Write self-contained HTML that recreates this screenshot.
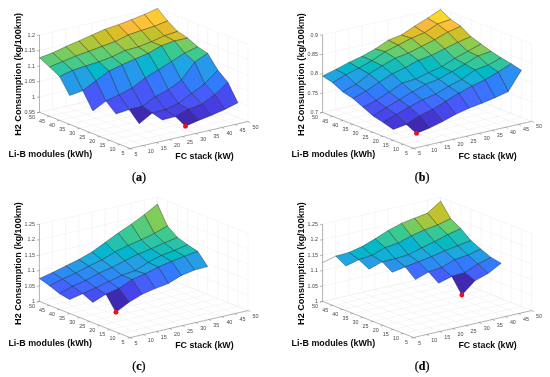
<!DOCTYPE html>
<html lang="en"><head><meta charset="utf-8"><title>H2 consumption surfaces</title>
<style>html,body{margin:0;padding:0;background:#fff}svg{display:block}</style></head><body>
<svg width="550" height="377" viewBox="0 0 550 377">
<rect width="550" height="377" fill="#fff"/>
<g id="plot-a">
<path d="M130 148.5L39.5 112.3M130 148.5L248 121.5M39.5 112.3L39.5 35M248 121.5L248 44.2M143.11 145.5L52.61 109.3M119.94 144.48L237.94 117.48M52.61 109.3L52.61 32M237.94 117.48L237.94 40.18M156.22 142.5L65.72 106.3M109.89 140.46L227.89 113.46M65.72 106.3L65.72 29M227.89 113.46L227.89 36.16M169.33 139.5L78.83 103.3M99.83 136.43L217.83 109.43M78.83 103.3L78.83 26M217.83 109.43L217.83 32.13M182.44 136.5L91.94 100.3M89.78 132.41L207.78 105.41M91.94 100.3L91.94 23M207.78 105.41L207.78 28.11M195.56 133.5L105.06 97.3M79.72 128.39L197.72 101.39M105.06 97.3L105.06 20M197.72 101.39L197.72 24.09M208.67 130.5L118.17 94.3M69.67 124.37L187.67 97.37M118.17 94.3L118.17 17M187.67 97.37L187.67 20.07M221.78 127.5L131.28 91.3M59.61 120.34L177.61 93.34M131.28 91.3L131.28 14M177.61 93.34L177.61 16.04M234.89 124.5L144.39 88.3M49.56 116.32L167.56 89.32M144.39 88.3L144.39 11M167.56 89.32L167.56 12.02M248 121.5L157.5 85.3M39.5 112.3L157.5 85.3M157.5 85.3L157.5 8M157.5 85.3L157.5 8M39.5 112.3L157.5 85.3M157.5 85.3L248 121.5M39.5 96.84L157.5 69.84M157.5 69.84L248 106.04M39.5 81.38L157.5 54.38M157.5 54.38L248 90.58M39.5 65.92L157.5 38.92M157.5 38.92L248 75.12M39.5 50.46L157.5 23.46M157.5 23.46L248 59.66M39.5 35L157.5 8M157.5 8L248 44.2" stroke="#ededed" stroke-width="0.5" fill="none"/>
<path d="M130 148.5L248 121.5M130 148.5L39.5 112.3M39.5 112.3L39.5 35M130 148.5L132.41 149.47M130 148.5L127.47 149.08M143.11 145.5L145.53 146.47M119.94 144.48L117.41 145.06M156.22 142.5L158.64 143.47M109.89 140.46L107.35 141.04M169.33 139.5L171.75 140.47M99.83 136.43L97.3 137.01M182.44 136.5L184.86 137.47M89.78 132.41L87.24 132.99M195.56 133.5L197.97 134.47M79.72 128.39L77.19 128.97M208.67 130.5L211.08 131.47M69.67 124.37L67.13 124.95M221.78 127.5L224.19 128.47M59.61 120.34L57.08 120.92M234.89 124.5L237.3 125.47M49.56 116.32L47.02 116.9M248 121.5L250.41 122.47M39.5 112.3L36.97 112.88M39.5 112.3L36.97 112.88M39.5 96.84L36.97 97.42M39.5 81.38L36.97 81.96M39.5 65.92L36.97 66.5M39.5 50.46L36.97 51.04M39.5 35L36.97 35.58" stroke="#7c7c7c" stroke-width="0.55" fill="none"/>
<g stroke="#000" stroke-opacity="0.7" stroke-width="0.45" stroke-linejoin="round">
<polygon fill="#feca33" points="154.44,26.3 167.56,20.9 157.5,8.5 144.39,14.4"/>
<polygon fill="#fec338" points="141.33,30.5 154.44,26.3 144.39,14.4 131.28,19.7"/>
<polygon fill="#e4bb2c" points="164.5,35.8 177.61,31.4 167.56,20.9 154.44,26.3"/>
<polygon fill="#fbbc3d" points="128.22,35 141.33,30.5 131.28,19.7 118.17,24.8"/>
<polygon fill="#c3c22b" points="151.39,41.8 164.5,35.8 154.44,26.3 141.33,30.5"/>
<polygon fill="#d8be28" points="174.56,41 187.67,38.1 177.61,31.4 164.5,35.8"/>
<polygon fill="#dcbd29" points="115.11,41.6 128.22,35 118.17,24.8 105.06,29.2"/>
<polygon fill="#a7c73c" points="138.28,47 151.39,41.8 141.33,30.5 128.22,35"/>
<polygon fill="#c4c22b" points="161.44,45.8 174.56,41 164.5,35.8 151.39,41.8"/>
<polygon fill="#74cc62" points="184.61,53.1 197.72,46.8 187.67,38.1 174.56,41"/>
<polygon fill="#c8c129" points="102,46.4 115.11,41.6 105.06,29.2 91.94,35"/>
<polygon fill="#a1c840" points="125.17,50.5 138.28,47 128.22,35 115.11,41.6"/>
<polygon fill="#89cb52" points="148.33,53.4 161.44,45.8 151.39,41.8 138.28,47"/>
<polygon fill="#3bc992" points="171.5,61.5 184.61,53.1 174.56,41 161.44,45.8"/>
<polygon fill="#afc637" points="88.89,51.4 102,46.4 91.94,35 78.83,40.9"/>
<polygon fill="#3eca8f" points="194.67,62.1 207.78,53.4 197.72,46.8 184.61,53.1"/>
<polygon fill="#77cc5f" points="112.06,56.8 125.17,50.5 115.11,41.6 102,46.4"/>
<polygon fill="#69cd6b" points="135.22,59 148.33,53.4 138.28,47 125.17,50.5"/>
<polygon fill="#18bfb6" points="158.39,69.9 171.5,61.5 161.44,45.8 148.33,53.4"/>
<polygon fill="#99c946" points="75.78,56.1 88.89,51.4 78.83,40.9 65.72,46.6"/>
<polygon fill="#20a5e3" points="181.56,80.2 194.67,62.1 184.61,53.1 171.5,61.5"/>
<polygon fill="#5ecd74" points="98.94,61.9 112.06,56.8 102,46.4 88.89,51.4"/>
<polygon fill="#269ae9" points="204.72,83.9 217.83,70.1 207.78,53.4 194.67,62.1"/>
<polygon fill="#4acb84" points="122.11,64.8 135.22,59 125.17,50.5 112.06,56.8"/>
<polygon fill="#0cb3d3" points="145.28,78 158.39,69.9 148.33,53.4 135.22,59"/>
<polygon fill="#7acc5e" points="62.67,61.6 75.78,56.1 65.72,46.6 52.61,52.8"/>
<polygon fill="#2d8af5" points="168.44,89.6 181.56,80.2 171.5,61.5 158.39,69.9"/>
<polygon fill="#52cc7e" points="85.83,66 98.94,61.9 88.89,51.4 75.78,56.1"/>
<polygon fill="#317efb" points="191.61,93.4 204.72,83.9 194.67,62.1 181.56,80.2"/>
<polygon fill="#32c69f" points="109,71.2 122.11,64.8 112.06,56.8 98.94,61.9"/>
<polygon fill="#327cfc" points="214.78,94.8 227.89,82.3 217.83,70.1 204.72,83.9"/>
<polygon fill="#2699e9" points="132.17,88 145.28,78 135.22,59 122.11,64.8"/>
<polygon fill="#5dcc75" points="49.56,67 62.67,61.6 52.61,52.8 39.5,57.8"/>
<polygon fill="#3776fe" points="155.33,96.9 168.44,89.6 158.39,69.9 145.28,78"/>
<polygon fill="#44cb8a" points="72.72,70.4 85.83,66 75.78,56.1 62.67,61.6"/>
<polygon fill="#475cfa" points="178.5,103.5 191.61,93.4 181.56,80.2 168.44,89.6"/>
<polygon fill="#01b9c8" points="95.89,80.9 109,71.2 98.94,61.9 85.83,66"/>
<polygon fill="#465dfb" points="201.67,104.3 214.78,94.8 204.72,83.9 191.61,93.4"/>
<polygon fill="#2d88f6" points="119.06,95 132.17,88 122.11,64.8 109,71.2"/>
<polygon fill="#484bef" points="224.83,109.4 237.94,102.8 227.89,82.3 214.78,94.8"/>
<polygon fill="#4758f8" points="142.22,106.4 155.33,96.9 145.28,78 132.17,88"/>
<polygon fill="#30c5a1" points="59.61,76.5 72.72,70.4 62.67,61.6 49.56,67"/>
<polygon fill="#484ff2" points="165.39,109.6 178.5,103.5 168.44,89.6 155.33,96.9"/>
<polygon fill="#21a2e4" points="82.78,90.7 95.89,80.9 85.83,66 72.72,70.4"/>
<polygon fill="#4854f5" points="188.56,109.4 201.67,104.3 191.61,93.4 178.5,103.5"/>
<polygon fill="#337afd" points="105.94,101.1 119.06,95 109,71.2 95.89,80.9"/>
<polygon fill="#473ee2" points="211.72,115.3 224.83,109.4 214.78,94.8 201.67,104.3"/>
<polygon fill="#4757f7" points="129.11,109.6 142.22,106.4 132.17,88 119.06,95"/>
<polygon fill="#484df0" points="152.28,113 165.39,109.6 155.33,96.9 142.22,106.4"/>
<polygon fill="#259be8" points="69.67,95.5 82.78,90.7 72.72,70.4 59.61,76.5"/>
<polygon fill="#4741e5" points="175.44,116.6 188.56,109.4 178.5,103.5 165.39,109.6"/>
<polygon fill="#475af9" points="92.83,110.9 105.94,101.1 95.89,80.9 82.78,90.7"/>
<polygon fill="#4536d4" points="198.61,120.4 211.72,115.3 201.67,104.3 188.56,109.4"/>
<polygon fill="#4852f4" points="116,113.9 129.11,109.6 119.06,95 105.94,101.1"/>
<polygon fill="#3f29b0" points="139.17,123.8 152.28,113 142.22,106.4 129.11,109.6"/>
<polygon fill="#4740e3" points="162.33,120 175.44,116.6 165.39,109.6 152.28,113"/>
<polygon fill="#3f29b0" points="185.5,126.3 198.61,120.4 188.56,109.4 175.44,116.6"/>
</g>
<circle cx="185.5" cy="126.3" r="2.45" fill="#f20d18"/>
</g>
<g id="plot-b">
<path d="M413.5 148.3L322.6 112.4M413.5 148.3L531.5 121.4M322.6 112.4L322.6 34.8M531.5 121.4L531.5 43.8M426.61 145.31L335.71 109.41M403.4 144.31L521.4 117.41M335.71 109.41L335.71 31.81M521.4 117.41L521.4 39.81M439.72 142.32L348.82 106.42M393.3 140.32L511.3 113.42M348.82 106.42L348.82 28.82M511.3 113.42L511.3 35.82M452.83 139.33L361.93 103.43M383.2 136.33L501.2 109.43M361.93 103.43L361.93 25.83M501.2 109.43L501.2 31.83M465.94 136.34L375.04 100.44M373.1 132.34L491.1 105.44M375.04 100.44L375.04 22.84M491.1 105.44L491.1 27.84M479.06 133.36L388.16 97.46M363 128.36L481 101.46M388.16 97.46L388.16 19.86M481 101.46L481 23.86M492.17 130.37L401.27 94.47M352.9 124.37L470.9 97.47M401.27 94.47L401.27 16.87M470.9 97.47L470.9 19.87M505.28 127.38L414.38 91.48M342.8 120.38L460.8 93.48M414.38 91.48L414.38 13.88M460.8 93.48L460.8 15.88M518.39 124.39L427.49 88.49M332.7 116.39L450.7 89.49M427.49 88.49L427.49 10.89M450.7 89.49L450.7 11.89M531.5 121.4L440.6 85.5M322.6 112.4L440.6 85.5M440.6 85.5L440.6 7.9M440.6 85.5L440.6 7.9M322.6 112.4L440.6 85.5M440.6 85.5L531.5 121.4M322.6 93L440.6 66.1M440.6 66.1L531.5 102M322.6 73.6L440.6 46.7M440.6 46.7L531.5 82.6M322.6 54.2L440.6 27.3M440.6 27.3L531.5 63.2M322.6 34.8L440.6 7.9M440.6 7.9L531.5 43.8" stroke="#ededed" stroke-width="0.5" fill="none"/>
<path d="M413.5 148.3L531.5 121.4M413.5 148.3L322.6 112.4M322.6 112.4L322.6 34.8M413.5 148.3L415.92 149.26M413.5 148.3L410.97 148.88M426.61 145.31L429.03 146.27M403.4 144.31L400.87 144.89M439.72 142.32L442.14 143.28M393.3 140.32L390.77 140.9M452.83 139.33L455.25 140.29M383.2 136.33L380.67 136.91M465.94 136.34L468.36 137.3M373.1 132.34L370.57 132.92M479.06 133.36L481.47 134.31M363 128.36L360.47 128.93M492.17 130.37L494.58 131.32M352.9 124.37L350.37 124.94M505.28 127.38L507.7 128.33M342.8 120.38L340.27 120.96M518.39 124.39L520.81 125.34M332.7 116.39L330.17 116.97M531.5 121.4L533.92 122.36M322.6 112.4L320.07 112.98M322.6 112.4L320.07 112.98M322.6 93L320.07 93.58M322.6 73.6L320.07 74.18M322.6 54.2L320.07 54.78M322.6 34.8L320.07 35.38" stroke="#7c7c7c" stroke-width="0.55" fill="none"/>
<g stroke="#000" stroke-opacity="0.7" stroke-width="0.45" stroke-linejoin="round">
<polygon fill="#f9d72c" points="437.59,24.1 450.7,19.4 440.6,9.5 427.49,18.2"/>
<polygon fill="#f7ba3c" points="424.48,32.8 437.59,24.1 427.49,18.2 414.38,26.3"/>
<polygon fill="#fec03a" points="447.69,32.1 460.8,26.3 450.7,19.4 437.59,24.1"/>
<polygon fill="#e2bc2b" points="411.37,38.3 424.48,32.8 414.38,26.3 401.27,35"/>
<polygon fill="#debd29" points="434.58,39.8 447.69,32.1 437.59,24.1 424.48,32.8"/>
<polygon fill="#cec028" points="457.79,42.3 470.9,36.6 460.8,26.3 447.69,32.1"/>
<polygon fill="#b8c431" points="398.26,45.2 411.37,38.3 401.27,35 388.16,40.2"/>
<polygon fill="#b5c533" points="421.47,46.5 434.58,39.8 424.48,32.8 411.37,38.3"/>
<polygon fill="#a4c83e" points="444.68,48.8 457.79,42.3 447.69,32.1 434.58,39.8"/>
<polygon fill="#8fcb4e" points="467.89,51.3 481,44 470.9,36.6 457.79,42.3"/>
<polygon fill="#88cb53" points="385.14,51.8 398.26,45.2 388.16,40.2 375.04,49"/>
<polygon fill="#84cc56" points="408.36,53.1 421.47,46.5 411.37,38.3 398.26,45.2"/>
<polygon fill="#72cd63" points="431.57,55.3 444.68,48.8 434.58,39.8 421.47,46.5"/>
<polygon fill="#56cc7b" points="454.78,58.5 467.89,51.3 457.79,42.3 444.68,48.8"/>
<polygon fill="#3dc990" points="372.03,60.7 385.14,51.8 375.04,49 361.93,56.3"/>
<polygon fill="#85cb55" points="477.99,56 491.1,51.3 481,44 467.89,51.3"/>
<polygon fill="#65cd6e" points="395.24,58.3 408.36,53.1 398.26,45.2 385.14,51.8"/>
<polygon fill="#57cc7a" points="418.46,60.4 431.57,55.3 421.47,46.5 408.36,53.1"/>
<polygon fill="#2bc3a8" points="441.67,66.6 454.78,58.5 444.68,48.8 431.57,55.3"/>
<polygon fill="#1dc0b3" points="358.92,68.2 372.03,60.7 361.93,56.3 348.82,62.4"/>
<polygon fill="#42ca8c" points="464.88,64.2 477.99,56 467.89,51.3 454.78,58.5"/>
<polygon fill="#35c79a" points="382.13,65.8 395.24,58.3 385.14,51.8 372.03,60.7"/>
<polygon fill="#43ca8b" points="488.09,65.1 501.2,57.8 491.1,51.3 477.99,56"/>
<polygon fill="#30c5a1" points="405.34,67.7 418.46,60.4 408.36,53.1 395.24,58.3"/>
<polygon fill="#09bdbe" points="428.56,72.8 441.67,66.6 431.57,55.3 418.46,60.4"/>
<polygon fill="#02b7cb" points="345.81,74.8 358.92,68.2 348.82,62.4 335.71,69.4"/>
<polygon fill="#21c1b0" points="451.77,71.8 464.88,64.2 454.78,58.5 441.67,66.6"/>
<polygon fill="#07bcbf" points="369.02,74 382.13,65.8 372.03,60.7 358.92,68.2"/>
<polygon fill="#34c79b" points="474.98,70 488.09,65.1 477.99,56 464.88,64.2"/>
<polygon fill="#13beb8" points="392.23,74 405.34,67.7 395.24,58.3 382.13,65.8"/>
<polygon fill="#2fc5a3" points="498.19,72 511.3,63.7 501.2,57.8 488.09,65.1"/>
<polygon fill="#0cb3d3" points="415.44,79.1 428.56,72.8 418.46,60.4 405.34,67.7"/>
<polygon fill="#20a5e2" points="332.7,82.7 345.81,74.8 335.71,69.4 322.6,76"/>
<polygon fill="#04b6cd" points="438.66,79.1 451.77,71.8 441.67,66.6 428.56,72.8"/>
<polygon fill="#22a2e4" points="355.91,84.4 369.02,74 358.92,68.2 345.81,74.8"/>
<polygon fill="#01b9c8" points="461.87,79.3 474.98,70 464.88,64.2 451.77,71.8"/>
<polygon fill="#15afd9" points="379.12,82.2 392.23,74 382.13,65.8 369.02,74"/>
<polygon fill="#02bac4" points="485.08,79.8 498.19,72 488.09,65.1 474.98,70"/>
<polygon fill="#14b0d8" points="402.33,83.1 415.44,79.1 405.34,67.7 392.23,74"/>
<polygon fill="#2c8ff1" points="508.29,91.5 521.4,70.2 511.3,63.7 498.19,72"/>
<polygon fill="#17aeda" points="425.54,84.5 438.66,79.1 428.56,72.8 415.44,79.1"/>
<polygon fill="#2d8cf3" points="342.8,91.9 355.91,84.4 345.81,74.8 332.7,82.7"/>
<polygon fill="#1babde" points="448.76,86.4 461.87,79.3 451.77,71.8 438.66,79.1"/>
<polygon fill="#2895ec" points="366.01,91.2 379.12,82.2 369.02,74 355.91,84.4"/>
<polygon fill="#14b0d8" points="471.97,86.1 485.08,79.8 474.98,70 461.87,79.3"/>
<polygon fill="#2895ec" points="389.22,92.2 402.33,83.1 392.23,74 379.12,82.2"/>
<polygon fill="#3080fb" points="495.18,97.7 508.29,91.5 498.19,72 485.08,79.8"/>
<polygon fill="#269be8" points="412.43,92 425.54,84.5 415.44,79.1 402.33,83.1"/>
<polygon fill="#2895ec" points="435.64,94.2 448.76,86.4 438.66,79.1 425.54,84.5"/>
<polygon fill="#2f80fa" points="352.9,98.5 366.01,91.2 355.91,84.4 342.8,91.9"/>
<polygon fill="#249de6" points="458.86,93.4 471.97,86.1 461.87,79.3 448.76,86.4"/>
<polygon fill="#327cfc" points="376.11,100.5 389.22,92.2 379.12,82.2 366.01,91.2"/>
<polygon fill="#3b72fe" points="482.07,103.3 495.18,97.7 485.08,79.8 471.97,86.1"/>
<polygon fill="#2e84f8" points="399.32,99.7 412.43,92 402.33,83.1 389.22,92.2"/>
<polygon fill="#2d87f7" points="422.53,100 435.64,94.2 425.54,84.5 412.43,92"/>
<polygon fill="#2e86f8" points="445.74,101.4 458.86,93.4 448.76,86.4 435.64,94.2"/>
<polygon fill="#4369fe" points="363,107.2 376.11,100.5 366.01,91.2 352.9,98.5"/>
<polygon fill="#4369fe" points="468.96,108.2 482.07,103.3 471.97,86.1 458.86,93.4"/>
<polygon fill="#416bfe" points="386.21,107.7 399.32,99.7 389.22,92.2 376.11,100.5"/>
<polygon fill="#3974fe" points="409.42,106.9 422.53,100 412.43,92 399.32,99.7"/>
<polygon fill="#406dfe" points="432.63,109.4 445.74,101.4 435.64,94.2 422.53,100"/>
<polygon fill="#475af9" points="455.84,114.3 468.96,108.2 458.86,93.4 445.74,101.4"/>
<polygon fill="#4852f4" points="373.1,116 386.21,107.7 376.11,100.5 363,107.2"/>
<polygon fill="#475cfa" points="396.31,114.7 409.42,106.9 399.32,99.7 386.21,107.7"/>
<polygon fill="#475cfa" points="419.52,115.9 432.63,109.4 422.53,100 409.42,106.9"/>
<polygon fill="#4746ea" points="442.73,121.5 455.84,114.3 445.74,101.4 432.63,109.4"/>
<polygon fill="#4746ea" points="383.2,122.5 396.31,114.7 386.21,107.7 373.1,116"/>
<polygon fill="#4742e6" points="406.41,124.4 419.52,115.9 409.42,106.9 396.31,114.7"/>
<polygon fill="#4536d3" points="429.62,128.1 442.73,121.5 432.63,109.4 419.52,115.9"/>
<polygon fill="#4538d8" points="393.3,129.5 406.41,124.4 396.31,114.7 383.2,122.5"/>
<polygon fill="#3f29b0" points="416.51,133.4 429.62,128.1 419.52,115.9 406.41,124.4"/>
</g>
<circle cx="416.51" cy="133.4" r="2.45" fill="#f20d18"/>
</g>
<g id="plot-c">
<path d="M130 337.6L39.4 301.4M130 337.6L248 310.6M39.4 301.4L39.4 224.2M248 310.6L248 233.4M143.11 334.6L52.51 298.4M119.93 333.58L237.93 306.58M52.51 298.4L52.51 221.2M237.93 306.58L237.93 229.38M156.22 331.6L65.62 295.4M109.87 329.56L227.87 302.56M65.62 295.4L65.62 218.2M227.87 302.56L227.87 225.36M169.33 328.6L78.73 292.4M99.8 325.53L217.8 298.53M78.73 292.4L78.73 215.2M217.8 298.53L217.8 221.33M182.44 325.6L91.84 289.4M89.73 321.51L207.73 294.51M91.84 289.4L91.84 212.2M207.73 294.51L207.73 217.31M195.56 322.6L104.96 286.4M79.67 317.49L197.67 290.49M104.96 286.4L104.96 209.2M197.67 290.49L197.67 213.29M208.67 319.6L118.07 283.4M69.6 313.47L187.6 286.47M118.07 283.4L118.07 206.2M187.6 286.47L187.6 209.27M221.78 316.6L131.18 280.4M59.53 309.44L177.53 282.44M131.18 280.4L131.18 203.2M177.53 282.44L177.53 205.24M234.89 313.6L144.29 277.4M49.47 305.42L167.47 278.42M144.29 277.4L144.29 200.2M167.47 278.42L167.47 201.22M248 310.6L157.4 274.4M39.4 301.4L157.4 274.4M157.4 274.4L157.4 197.2M157.4 274.4L157.4 197.2M39.4 301.4L157.4 274.4M157.4 274.4L248 310.6M39.4 285.96L157.4 258.96M157.4 258.96L248 295.16M39.4 270.52L157.4 243.52M157.4 243.52L248 279.72M39.4 255.08L157.4 228.08M157.4 228.08L248 264.28M39.4 239.64L157.4 212.64M157.4 212.64L248 248.84M39.4 224.2L157.4 197.2M157.4 197.2L248 233.4" stroke="#ededed" stroke-width="0.5" fill="none"/>
<path d="M130 337.6L248 310.6M130 337.6L39.4 301.4M39.4 301.4L39.4 224.2M130 337.6L132.41 338.56M130 337.6L127.47 338.18M143.11 334.6L145.53 335.56M119.93 333.58L117.4 334.16M156.22 331.6L158.64 332.56M109.87 329.56L107.33 330.14M169.33 328.6L171.75 329.56M99.8 325.53L97.27 326.11M182.44 325.6L184.86 326.56M89.73 321.51L87.2 322.09M195.56 322.6L197.97 323.56M79.67 317.49L77.13 318.07M208.67 319.6L211.08 320.56M69.6 313.47L67.07 314.05M221.78 316.6L224.19 317.56M59.53 309.44L57 310.02M234.89 313.6L237.3 314.56M49.47 305.42L46.93 306M248 310.6L250.41 311.56M39.4 301.4L36.87 301.98M39.4 301.4L36.87 301.98M39.4 285.96L36.87 286.54M39.4 270.52L36.87 271.1M39.4 255.08L36.87 255.66M39.4 239.64L36.87 240.22M39.4 224.2L36.87 224.78" stroke="#7c7c7c" stroke-width="0.55" fill="none"/>
<g stroke="#000" stroke-opacity="0.7" stroke-width="0.45" stroke-linejoin="round">
<polygon fill="#80cc59" points="154.36,233.5 167.47,226 157.4,204.1 144.29,214.7"/>
<polygon fill="#55cc7b" points="141.24,239.8 154.36,233.5 144.29,214.7 131.18,224.2"/>
<polygon fill="#3eca8f" points="164.42,243 177.53,237.4 167.47,226 154.36,233.5"/>
<polygon fill="#3ac994" points="128.13,245.5 141.24,239.8 131.18,224.2 118.07,233.1"/>
<polygon fill="#2dc4a5" points="151.31,248.8 164.42,243 154.36,233.5 141.24,239.8"/>
<polygon fill="#28c3aa" points="174.49,250.5 187.6,244.7 177.53,237.4 164.42,243"/>
<polygon fill="#24c2ae" points="115.02,252 128.13,245.5 118.07,233.1 104.96,242.5"/>
<polygon fill="#18bfb6" points="138.2,254.2 151.31,248.8 141.24,239.8 128.13,245.5"/>
<polygon fill="#14bfb8" points="161.38,255.5 174.49,250.5 164.42,243 151.31,248.8"/>
<polygon fill="#16bfb7" points="184.56,256.4 197.67,251.3 187.6,244.7 174.49,250.5"/>
<polygon fill="#05b6ce" points="101.91,260 115.02,252 104.96,242.5 91.84,252"/>
<polygon fill="#04b6cd" points="125.09,260.8 138.2,254.2 128.13,245.5 115.02,252"/>
<polygon fill="#08b4d0" points="148.27,262.5 161.38,255.5 151.31,248.8 138.2,254.2"/>
<polygon fill="#02bac4" points="171.44,261.5 184.56,256.4 174.49,250.5 161.38,255.5"/>
<polygon fill="#1babde" points="88.8,266.2 101.91,260 91.84,252 78.73,259.5"/>
<polygon fill="#249fe5" points="194.62,270 207.73,266.6 197.67,251.3 184.56,256.4"/>
<polygon fill="#1caadf" points="111.98,267.5 125.09,260.8 115.02,252 101.91,260"/>
<polygon fill="#23a0e5" points="135.16,270.7 148.27,262.5 138.2,254.2 125.09,260.8"/>
<polygon fill="#0fb2d4" points="158.33,267.2 171.44,261.5 161.38,255.5 148.27,262.5"/>
<polygon fill="#2699e9" points="75.69,273.2 88.8,266.2 78.73,259.5 65.62,265.9"/>
<polygon fill="#2994ed" points="181.51,275.4 194.62,270 184.56,256.4 171.44,261.5"/>
<polygon fill="#249ee6" points="98.87,273.3 111.98,267.5 101.91,260 88.8,266.2"/>
<polygon fill="#2699e9" points="122.04,275.3 135.16,270.7 125.09,260.8 111.98,267.5"/>
<polygon fill="#20a4e3" points="145.22,273.9 158.33,267.2 148.27,262.5 135.16,270.7"/>
<polygon fill="#2d8cf3" points="62.58,279.1 75.69,273.2 65.62,265.9 52.51,272.5"/>
<polygon fill="#337bfd" points="168.4,283.4 181.51,275.4 171.44,261.5 158.33,267.2"/>
<polygon fill="#2d8af5" points="85.76,280.5 98.87,273.3 88.8,266.2 75.69,273.2"/>
<polygon fill="#2d89f5" points="108.93,281.6 122.04,275.3 111.98,267.5 98.87,273.3"/>
<polygon fill="#2797ea" points="132.11,279.7 145.22,273.9 135.16,270.7 122.04,275.3"/>
<polygon fill="#3579fd" points="49.47,285.7 62.58,279.1 52.51,272.5 39.4,278.4"/>
<polygon fill="#3f6fff" points="155.29,288.5 168.4,283.4 158.33,267.2 145.22,273.9"/>
<polygon fill="#337afd" points="72.64,286.4 85.76,280.5 75.69,273.2 62.58,279.1"/>
<polygon fill="#3578fd" points="95.82,287.8 108.93,281.6 98.87,273.3 85.76,280.5"/>
<polygon fill="#347afd" points="119,288.5 132.11,279.7 122.04,275.3 108.93,281.6"/>
<polygon fill="#465ffb" points="142.18,294.3 155.29,288.5 145.22,273.9 132.11,279.7"/>
<polygon fill="#4562fc" points="59.53,293.7 72.64,286.4 62.58,279.1 49.47,285.7"/>
<polygon fill="#4368fd" points="82.71,293.7 95.82,287.8 85.76,280.5 72.64,286.4"/>
<polygon fill="#426afe" points="105.89,294.3 119,288.5 108.93,281.6 95.82,287.8"/>
<polygon fill="#4745e9" points="129.07,302.3 142.18,294.3 132.11,279.7 119,288.5"/>
<polygon fill="#4758f8" points="69.6,299.5 82.71,293.7 72.64,286.4 59.53,293.7"/>
<polygon fill="#484ff1" points="92.78,302.4 105.89,294.3 95.82,287.8 82.71,293.7"/>
<polygon fill="#3f29b0" points="115.96,312.3 129.07,302.3 119,288.5 105.89,294.3"/>
</g>
<circle cx="115.96" cy="312.3" r="2.45" fill="#f20d18"/>
</g>
<g id="plot-d">
<path d="M413.5 337.5L322.6 301.4M413.5 337.5L531.5 310.6M322.6 301.4L322.6 224.2M531.5 310.6L531.5 233.4M426.61 334.51L335.71 298.41M403.4 333.49L521.4 306.59M335.71 298.41L335.71 221.21M521.4 306.59L521.4 229.39M439.72 331.52L348.82 295.42M393.3 329.48L511.3 302.58M348.82 295.42L348.82 218.22M511.3 302.58L511.3 225.38M452.83 328.53L361.93 292.43M383.2 325.47L501.2 298.57M361.93 292.43L361.93 215.23M501.2 298.57L501.2 221.37M465.94 325.54L375.04 289.44M373.1 321.46L491.1 294.56M375.04 289.44L375.04 212.24M491.1 294.56L491.1 217.36M479.06 322.56L388.16 286.46M363 317.44L481 290.54M388.16 286.46L388.16 209.26M481 290.54L481 213.34M492.17 319.57L401.27 283.47M352.9 313.43L470.9 286.53M401.27 283.47L401.27 206.27M470.9 286.53L470.9 209.33M505.28 316.58L414.38 280.48M342.8 309.42L460.8 282.52M414.38 280.48L414.38 203.28M460.8 282.52L460.8 205.32M518.39 313.59L427.49 277.49M332.7 305.41L450.7 278.51M427.49 277.49L427.49 200.29M450.7 278.51L450.7 201.31M531.5 310.6L440.6 274.5M322.6 301.4L440.6 274.5M440.6 274.5L440.6 197.3M440.6 274.5L440.6 197.3M322.6 301.4L440.6 274.5M440.6 274.5L531.5 310.6M322.6 285.96L440.6 259.06M440.6 259.06L531.5 295.16M322.6 270.52L440.6 243.62M440.6 243.62L531.5 279.72M322.6 255.08L440.6 228.18M440.6 228.18L531.5 264.28M322.6 239.64L440.6 212.74M440.6 212.74L531.5 248.84M322.6 224.2L440.6 197.3M440.6 197.3L531.5 233.4" stroke="#ededed" stroke-width="0.5" fill="none"/>
<path d="M413.5 337.5L531.5 310.6M413.5 337.5L322.6 301.4M322.6 301.4L322.6 224.2M413.5 337.5L415.92 338.46M413.5 337.5L410.97 338.08M426.61 334.51L429.03 335.47M403.4 333.49L400.87 334.07M439.72 331.52L442.14 332.48M393.3 329.48L390.77 330.06M452.83 328.53L455.25 329.49M383.2 325.47L380.67 326.04M465.94 325.54L468.36 326.5M373.1 321.46L370.57 322.03M479.06 322.56L481.47 323.52M363 317.44L360.47 318.02M492.17 319.57L494.58 320.53M352.9 313.43L350.37 314.01M505.28 316.58L507.69 317.54M342.8 309.42L340.27 310M518.39 313.59L520.81 314.55M332.7 305.41L330.17 305.99M531.5 310.6L533.92 311.56M322.6 301.4L320.07 301.98M322.6 301.4L320.07 301.98M322.6 285.96L320.07 286.54M322.6 270.52L320.07 271.1M322.6 255.08L320.07 255.66M322.6 239.64L320.07 240.22M322.6 224.2L320.07 224.78" stroke="#7c7c7c" stroke-width="0.55" fill="none"/>
<g stroke="#000" stroke-opacity="0.7" stroke-width="0.45" stroke-linejoin="round">
<polygon fill="#c0c32d" points="437.59,225 450.7,218.6 440.6,201.1 427.49,213.1"/>
<polygon fill="#a3c83f" points="424.48,230 437.59,225 427.49,213.1 414.38,218.2"/>
<polygon fill="#68cd6b" points="447.69,234.7 460.8,228.6 450.7,218.6 437.59,225"/>
<polygon fill="#76cc60" points="411.37,235.8 424.48,230 414.38,218.2 401.27,223.4"/>
<polygon fill="#37c898" points="434.58,241.7 447.69,234.7 437.59,225 424.48,230"/>
<polygon fill="#1fc0b2" points="457.79,245.8 470.9,240.5 460.8,228.6 447.69,234.7"/>
<polygon fill="#3bc992" points="398.26,243.1 411.37,235.8 401.27,223.4 388.16,230.4"/>
<polygon fill="#1cc0b4" points="421.47,248 434.58,241.7 424.48,230 411.37,235.8"/>
<polygon fill="#05bbc1" points="444.68,250.8 457.79,245.8 447.69,234.7 434.58,241.7"/>
<polygon fill="#14b0d8" points="467.89,255.2 481,249.2 470.9,240.5 457.79,245.8"/>
<polygon fill="#30c5a1" points="385.14,247.7 398.26,243.1 388.16,230.4 375.04,238.8"/>
<polygon fill="#07b5d0" points="408.36,254.8 421.47,248 411.37,235.8 398.26,243.1"/>
<polygon fill="#10b2d5" points="431.57,256.7 444.68,250.8 434.58,241.7 421.47,248"/>
<polygon fill="#1baade" points="454.78,259.6 467.89,255.2 457.79,245.8 444.68,250.8"/>
<polygon fill="#01bac5" points="372.03,255.3 385.14,247.7 375.04,238.8 361.93,246.6"/>
<polygon fill="#269ae8" points="477.99,264 491.1,257.4 481,249.2 467.89,255.2"/>
<polygon fill="#12b1d6" points="395.24,258.9 408.36,254.8 398.26,243.1 385.14,247.7"/>
<polygon fill="#1ca9df" points="418.46,261.8 431.57,256.7 421.47,248 408.36,254.8"/>
<polygon fill="#2b92ee" points="441.67,267.6 454.78,259.6 444.68,250.8 431.57,256.7"/>
<polygon fill="#07b5cf" points="358.92,259.7 372.03,255.3 361.93,246.6 348.82,252.4"/>
<polygon fill="#337bfd" points="464.88,272.7 477.99,264 467.89,255.2 454.78,259.6"/>
<polygon fill="#11b1d6" points="382.13,261.8 395.24,258.9 385.14,247.7 372.03,255.3"/>
<polygon fill="#327cfc" points="488.09,273.5 501.2,263.2 491.1,257.4 477.99,264"/>
<polygon fill="#249fe5" points="405.34,266.9 418.46,261.8 408.36,254.8 395.24,258.9"/>
<polygon fill="#2d8af4" points="428.56,272 441.67,267.6 431.57,256.7 418.46,261.8"/>
<polygon fill="#1da8e0" points="345.81,266 358.92,259.7 348.82,252.4 335.71,256.1"/>
<polygon fill="#3876fe" points="451.77,276.4 464.88,272.7 454.78,259.6 441.67,267.6"/>
<polygon fill="#249ee6" points="369.02,269.2 382.13,261.8 372.03,255.3 358.92,259.7"/>
<polygon fill="#4561fc" points="474.98,280.8 488.09,273.5 477.99,264 464.88,272.7"/>
<polygon fill="#2a93ed" points="392.23,272.3 405.34,266.9 395.24,258.9 382.13,261.8"/>
<polygon fill="#3f6eff" points="415.44,279.6 428.56,272 418.46,261.8 405.34,266.9"/>
<polygon fill="#465efb" points="438.66,283.2 451.77,276.4 441.67,267.6 428.56,272"/>
<polygon fill="#3f29b0" points="461.87,295 474.98,280.8 464.88,272.7 451.77,276.4"/>
<line x1="322.6" y1="262.6" x2="335.71" y2="256.1"/>
</g>
<circle cx="461.87" cy="295" r="2.45" fill="#f20d18"/>
</g>
<g id="labels">
<text x="134.6" y="155.55" font-size="5.4" font-family="&quot;Liberation Sans&quot;, sans-serif" fill="#484848" text-anchor="start">5</text>
<text x="123" y="154.95" font-size="5.4" font-family="&quot;Liberation Sans&quot;, sans-serif" fill="#484848" text-anchor="middle">5</text>
<text x="147.71" y="152.55" font-size="5.4" font-family="&quot;Liberation Sans&quot;, sans-serif" fill="#484848" text-anchor="start">10</text>
<text x="112.44" y="150.93" font-size="5.4" font-family="&quot;Liberation Sans&quot;, sans-serif" fill="#484848" text-anchor="middle">10</text>
<text x="160.82" y="149.55" font-size="5.4" font-family="&quot;Liberation Sans&quot;, sans-serif" fill="#484848" text-anchor="start">15</text>
<text x="102.39" y="146.91" font-size="5.4" font-family="&quot;Liberation Sans&quot;, sans-serif" fill="#484848" text-anchor="middle">15</text>
<text x="173.93" y="146.55" font-size="5.4" font-family="&quot;Liberation Sans&quot;, sans-serif" fill="#484848" text-anchor="start">20</text>
<text x="92.33" y="142.88" font-size="5.4" font-family="&quot;Liberation Sans&quot;, sans-serif" fill="#484848" text-anchor="middle">20</text>
<text x="187.04" y="143.55" font-size="5.4" font-family="&quot;Liberation Sans&quot;, sans-serif" fill="#484848" text-anchor="start">25</text>
<text x="82.28" y="138.86" font-size="5.4" font-family="&quot;Liberation Sans&quot;, sans-serif" fill="#484848" text-anchor="middle">25</text>
<text x="200.16" y="140.55" font-size="5.4" font-family="&quot;Liberation Sans&quot;, sans-serif" fill="#484848" text-anchor="start">30</text>
<text x="72.22" y="134.84" font-size="5.4" font-family="&quot;Liberation Sans&quot;, sans-serif" fill="#484848" text-anchor="middle">30</text>
<text x="213.27" y="137.55" font-size="5.4" font-family="&quot;Liberation Sans&quot;, sans-serif" fill="#484848" text-anchor="start">35</text>
<text x="62.17" y="130.82" font-size="5.4" font-family="&quot;Liberation Sans&quot;, sans-serif" fill="#484848" text-anchor="middle">35</text>
<text x="226.38" y="134.55" font-size="5.4" font-family="&quot;Liberation Sans&quot;, sans-serif" fill="#484848" text-anchor="start">40</text>
<text x="52.11" y="126.79" font-size="5.4" font-family="&quot;Liberation Sans&quot;, sans-serif" fill="#484848" text-anchor="middle">40</text>
<text x="239.49" y="131.55" font-size="5.4" font-family="&quot;Liberation Sans&quot;, sans-serif" fill="#484848" text-anchor="start">45</text>
<text x="42.06" y="122.77" font-size="5.4" font-family="&quot;Liberation Sans&quot;, sans-serif" fill="#484848" text-anchor="middle">45</text>
<text x="252.6" y="128.55" font-size="5.4" font-family="&quot;Liberation Sans&quot;, sans-serif" fill="#484848" text-anchor="start">50</text>
<text x="32" y="118.75" font-size="5.4" font-family="&quot;Liberation Sans&quot;, sans-serif" fill="#484848" text-anchor="middle">50</text>
<text x="35" y="114.15" font-size="5.4" font-family="&quot;Liberation Sans&quot;, sans-serif" fill="#484848" text-anchor="end">0.95</text>
<text x="35" y="98.69" font-size="5.4" font-family="&quot;Liberation Sans&quot;, sans-serif" fill="#484848" text-anchor="end">1</text>
<text x="35" y="83.23" font-size="5.4" font-family="&quot;Liberation Sans&quot;, sans-serif" fill="#484848" text-anchor="end">1.05</text>
<text x="35" y="67.77" font-size="5.4" font-family="&quot;Liberation Sans&quot;, sans-serif" fill="#484848" text-anchor="end">1.1</text>
<text x="35" y="52.31" font-size="5.4" font-family="&quot;Liberation Sans&quot;, sans-serif" fill="#484848" text-anchor="end">1.15</text>
<text x="35" y="36.85" font-size="5.4" font-family="&quot;Liberation Sans&quot;, sans-serif" fill="#484848" text-anchor="end">1.2</text>
<text x="20.6" y="74.4" font-size="9.1" font-family="&quot;Liberation Sans&quot;, sans-serif" fill="#0a0a0a" text-anchor="middle" font-weight="bold" transform="rotate(-90 20.6 74.4)" textLength="122.8" lengthAdjust="spacingAndGlyphs">H2 Consumption (kg/100km)</text>
<text x="50.3" y="156.6" font-size="8.8" font-family="&quot;Liberation Sans&quot;, sans-serif" fill="#0a0a0a" text-anchor="middle" font-weight="bold" textLength="83.6" lengthAdjust="spacingAndGlyphs">Li-B modules (kWh)</text>
<text x="204.5" y="159" font-size="8.8" font-family="&quot;Liberation Sans&quot;, sans-serif" fill="#0a0a0a" text-anchor="middle" font-weight="bold" textLength="58.4" lengthAdjust="spacingAndGlyphs">FC stack (kW)</text>
<text x="139" y="180.9" font-size="12" font-family="&quot;Liberation Serif&quot;, serif" fill="#000" text-anchor="middle" stroke="#000" stroke-width="0.22">(<tspan font-weight="bold">a</tspan>)</text>
<text x="418.1" y="155.35" font-size="5.4" font-family="&quot;Liberation Sans&quot;, sans-serif" fill="#484848" text-anchor="start">5</text>
<text x="406.5" y="154.75" font-size="5.4" font-family="&quot;Liberation Sans&quot;, sans-serif" fill="#484848" text-anchor="middle">5</text>
<text x="431.21" y="152.36" font-size="5.4" font-family="&quot;Liberation Sans&quot;, sans-serif" fill="#484848" text-anchor="start">10</text>
<text x="395.9" y="150.76" font-size="5.4" font-family="&quot;Liberation Sans&quot;, sans-serif" fill="#484848" text-anchor="middle">10</text>
<text x="444.32" y="149.37" font-size="5.4" font-family="&quot;Liberation Sans&quot;, sans-serif" fill="#484848" text-anchor="start">15</text>
<text x="385.8" y="146.77" font-size="5.4" font-family="&quot;Liberation Sans&quot;, sans-serif" fill="#484848" text-anchor="middle">15</text>
<text x="457.43" y="146.38" font-size="5.4" font-family="&quot;Liberation Sans&quot;, sans-serif" fill="#484848" text-anchor="start">20</text>
<text x="375.7" y="142.78" font-size="5.4" font-family="&quot;Liberation Sans&quot;, sans-serif" fill="#484848" text-anchor="middle">20</text>
<text x="470.54" y="143.39" font-size="5.4" font-family="&quot;Liberation Sans&quot;, sans-serif" fill="#484848" text-anchor="start">25</text>
<text x="365.6" y="138.79" font-size="5.4" font-family="&quot;Liberation Sans&quot;, sans-serif" fill="#484848" text-anchor="middle">25</text>
<text x="483.66" y="140.41" font-size="5.4" font-family="&quot;Liberation Sans&quot;, sans-serif" fill="#484848" text-anchor="start">30</text>
<text x="355.5" y="134.81" font-size="5.4" font-family="&quot;Liberation Sans&quot;, sans-serif" fill="#484848" text-anchor="middle">30</text>
<text x="496.77" y="137.42" font-size="5.4" font-family="&quot;Liberation Sans&quot;, sans-serif" fill="#484848" text-anchor="start">35</text>
<text x="345.4" y="130.82" font-size="5.4" font-family="&quot;Liberation Sans&quot;, sans-serif" fill="#484848" text-anchor="middle">35</text>
<text x="509.88" y="134.43" font-size="5.4" font-family="&quot;Liberation Sans&quot;, sans-serif" fill="#484848" text-anchor="start">40</text>
<text x="335.3" y="126.83" font-size="5.4" font-family="&quot;Liberation Sans&quot;, sans-serif" fill="#484848" text-anchor="middle">40</text>
<text x="522.99" y="131.44" font-size="5.4" font-family="&quot;Liberation Sans&quot;, sans-serif" fill="#484848" text-anchor="start">45</text>
<text x="325.2" y="122.84" font-size="5.4" font-family="&quot;Liberation Sans&quot;, sans-serif" fill="#484848" text-anchor="middle">45</text>
<text x="536.1" y="128.45" font-size="5.4" font-family="&quot;Liberation Sans&quot;, sans-serif" fill="#484848" text-anchor="start">50</text>
<text x="315.1" y="118.85" font-size="5.4" font-family="&quot;Liberation Sans&quot;, sans-serif" fill="#484848" text-anchor="middle">50</text>
<text x="318.1" y="114.25" font-size="5.4" font-family="&quot;Liberation Sans&quot;, sans-serif" fill="#484848" text-anchor="end">0.7</text>
<text x="318.1" y="94.85" font-size="5.4" font-family="&quot;Liberation Sans&quot;, sans-serif" fill="#484848" text-anchor="end">0.75</text>
<text x="318.1" y="75.45" font-size="5.4" font-family="&quot;Liberation Sans&quot;, sans-serif" fill="#484848" text-anchor="end">0.8</text>
<text x="318.1" y="56.05" font-size="5.4" font-family="&quot;Liberation Sans&quot;, sans-serif" fill="#484848" text-anchor="end">0.85</text>
<text x="318.1" y="36.65" font-size="5.4" font-family="&quot;Liberation Sans&quot;, sans-serif" fill="#484848" text-anchor="end">0.9</text>
<text x="303.7" y="74.5" font-size="9.1" font-family="&quot;Liberation Sans&quot;, sans-serif" fill="#0a0a0a" text-anchor="middle" font-weight="bold" transform="rotate(-90 303.7 74.5)" textLength="122.8" lengthAdjust="spacingAndGlyphs">H2 Consumption (kg/100km)</text>
<text x="333.4" y="156.7" font-size="8.8" font-family="&quot;Liberation Sans&quot;, sans-serif" fill="#0a0a0a" text-anchor="middle" font-weight="bold" textLength="83.6" lengthAdjust="spacingAndGlyphs">Li-B modules (kWh)</text>
<text x="487.6" y="159.1" font-size="8.8" font-family="&quot;Liberation Sans&quot;, sans-serif" fill="#0a0a0a" text-anchor="middle" font-weight="bold" textLength="58.4" lengthAdjust="spacingAndGlyphs">FC stack (kW)</text>
<text x="422.1" y="181" font-size="12" font-family="&quot;Liberation Serif&quot;, serif" fill="#000" text-anchor="middle" stroke="#000" stroke-width="0.22">(<tspan font-weight="bold">b</tspan>)</text>
<text x="134.6" y="344.65" font-size="5.4" font-family="&quot;Liberation Sans&quot;, sans-serif" fill="#484848" text-anchor="start">5</text>
<text x="123" y="344.05" font-size="5.4" font-family="&quot;Liberation Sans&quot;, sans-serif" fill="#484848" text-anchor="middle">5</text>
<text x="147.71" y="341.65" font-size="5.4" font-family="&quot;Liberation Sans&quot;, sans-serif" fill="#484848" text-anchor="start">10</text>
<text x="112.43" y="340.03" font-size="5.4" font-family="&quot;Liberation Sans&quot;, sans-serif" fill="#484848" text-anchor="middle">10</text>
<text x="160.82" y="338.65" font-size="5.4" font-family="&quot;Liberation Sans&quot;, sans-serif" fill="#484848" text-anchor="start">15</text>
<text x="102.37" y="336.01" font-size="5.4" font-family="&quot;Liberation Sans&quot;, sans-serif" fill="#484848" text-anchor="middle">15</text>
<text x="173.93" y="335.65" font-size="5.4" font-family="&quot;Liberation Sans&quot;, sans-serif" fill="#484848" text-anchor="start">20</text>
<text x="92.3" y="331.98" font-size="5.4" font-family="&quot;Liberation Sans&quot;, sans-serif" fill="#484848" text-anchor="middle">20</text>
<text x="187.04" y="332.65" font-size="5.4" font-family="&quot;Liberation Sans&quot;, sans-serif" fill="#484848" text-anchor="start">25</text>
<text x="82.23" y="327.96" font-size="5.4" font-family="&quot;Liberation Sans&quot;, sans-serif" fill="#484848" text-anchor="middle">25</text>
<text x="200.16" y="329.65" font-size="5.4" font-family="&quot;Liberation Sans&quot;, sans-serif" fill="#484848" text-anchor="start">30</text>
<text x="72.17" y="323.94" font-size="5.4" font-family="&quot;Liberation Sans&quot;, sans-serif" fill="#484848" text-anchor="middle">30</text>
<text x="213.27" y="326.65" font-size="5.4" font-family="&quot;Liberation Sans&quot;, sans-serif" fill="#484848" text-anchor="start">35</text>
<text x="62.1" y="319.92" font-size="5.4" font-family="&quot;Liberation Sans&quot;, sans-serif" fill="#484848" text-anchor="middle">35</text>
<text x="226.38" y="323.65" font-size="5.4" font-family="&quot;Liberation Sans&quot;, sans-serif" fill="#484848" text-anchor="start">40</text>
<text x="52.03" y="315.89" font-size="5.4" font-family="&quot;Liberation Sans&quot;, sans-serif" fill="#484848" text-anchor="middle">40</text>
<text x="239.49" y="320.65" font-size="5.4" font-family="&quot;Liberation Sans&quot;, sans-serif" fill="#484848" text-anchor="start">45</text>
<text x="41.97" y="311.87" font-size="5.4" font-family="&quot;Liberation Sans&quot;, sans-serif" fill="#484848" text-anchor="middle">45</text>
<text x="252.6" y="317.65" font-size="5.4" font-family="&quot;Liberation Sans&quot;, sans-serif" fill="#484848" text-anchor="start">50</text>
<text x="31.9" y="307.85" font-size="5.4" font-family="&quot;Liberation Sans&quot;, sans-serif" fill="#484848" text-anchor="middle">50</text>
<text x="34.9" y="303.25" font-size="5.4" font-family="&quot;Liberation Sans&quot;, sans-serif" fill="#484848" text-anchor="end">1</text>
<text x="34.9" y="287.81" font-size="5.4" font-family="&quot;Liberation Sans&quot;, sans-serif" fill="#484848" text-anchor="end">1.05</text>
<text x="34.9" y="272.37" font-size="5.4" font-family="&quot;Liberation Sans&quot;, sans-serif" fill="#484848" text-anchor="end">1.1</text>
<text x="34.9" y="256.93" font-size="5.4" font-family="&quot;Liberation Sans&quot;, sans-serif" fill="#484848" text-anchor="end">1.15</text>
<text x="34.9" y="241.49" font-size="5.4" font-family="&quot;Liberation Sans&quot;, sans-serif" fill="#484848" text-anchor="end">1.2</text>
<text x="34.9" y="226.05" font-size="5.4" font-family="&quot;Liberation Sans&quot;, sans-serif" fill="#484848" text-anchor="end">1.25</text>
<text x="20.5" y="263.5" font-size="9.1" font-family="&quot;Liberation Sans&quot;, sans-serif" fill="#0a0a0a" text-anchor="middle" font-weight="bold" transform="rotate(-90 20.5 263.5)" textLength="122.8" lengthAdjust="spacingAndGlyphs">H2 Consumption (kg/100km)</text>
<text x="50.2" y="345.7" font-size="8.8" font-family="&quot;Liberation Sans&quot;, sans-serif" fill="#0a0a0a" text-anchor="middle" font-weight="bold" textLength="83.6" lengthAdjust="spacingAndGlyphs">Li-B modules (kWh)</text>
<text x="204.4" y="348.1" font-size="8.8" font-family="&quot;Liberation Sans&quot;, sans-serif" fill="#0a0a0a" text-anchor="middle" font-weight="bold" textLength="58.4" lengthAdjust="spacingAndGlyphs">FC stack (kW)</text>
<text x="138.9" y="370" font-size="12" font-family="&quot;Liberation Serif&quot;, serif" fill="#000" text-anchor="middle" stroke="#000" stroke-width="0.22">(<tspan font-weight="bold">c</tspan>)</text>
<text x="418.1" y="344.55" font-size="5.4" font-family="&quot;Liberation Sans&quot;, sans-serif" fill="#484848" text-anchor="start">5</text>
<text x="406.5" y="343.95" font-size="5.4" font-family="&quot;Liberation Sans&quot;, sans-serif" fill="#484848" text-anchor="middle">5</text>
<text x="431.21" y="341.56" font-size="5.4" font-family="&quot;Liberation Sans&quot;, sans-serif" fill="#484848" text-anchor="start">10</text>
<text x="395.9" y="339.94" font-size="5.4" font-family="&quot;Liberation Sans&quot;, sans-serif" fill="#484848" text-anchor="middle">10</text>
<text x="444.32" y="338.57" font-size="5.4" font-family="&quot;Liberation Sans&quot;, sans-serif" fill="#484848" text-anchor="start">15</text>
<text x="385.8" y="335.93" font-size="5.4" font-family="&quot;Liberation Sans&quot;, sans-serif" fill="#484848" text-anchor="middle">15</text>
<text x="457.43" y="335.58" font-size="5.4" font-family="&quot;Liberation Sans&quot;, sans-serif" fill="#484848" text-anchor="start">20</text>
<text x="375.7" y="331.92" font-size="5.4" font-family="&quot;Liberation Sans&quot;, sans-serif" fill="#484848" text-anchor="middle">20</text>
<text x="470.54" y="332.59" font-size="5.4" font-family="&quot;Liberation Sans&quot;, sans-serif" fill="#484848" text-anchor="start">25</text>
<text x="365.6" y="327.91" font-size="5.4" font-family="&quot;Liberation Sans&quot;, sans-serif" fill="#484848" text-anchor="middle">25</text>
<text x="483.66" y="329.61" font-size="5.4" font-family="&quot;Liberation Sans&quot;, sans-serif" fill="#484848" text-anchor="start">30</text>
<text x="355.5" y="323.89" font-size="5.4" font-family="&quot;Liberation Sans&quot;, sans-serif" fill="#484848" text-anchor="middle">30</text>
<text x="496.77" y="326.62" font-size="5.4" font-family="&quot;Liberation Sans&quot;, sans-serif" fill="#484848" text-anchor="start">35</text>
<text x="345.4" y="319.88" font-size="5.4" font-family="&quot;Liberation Sans&quot;, sans-serif" fill="#484848" text-anchor="middle">35</text>
<text x="509.88" y="323.63" font-size="5.4" font-family="&quot;Liberation Sans&quot;, sans-serif" fill="#484848" text-anchor="start">40</text>
<text x="335.3" y="315.87" font-size="5.4" font-family="&quot;Liberation Sans&quot;, sans-serif" fill="#484848" text-anchor="middle">40</text>
<text x="522.99" y="320.64" font-size="5.4" font-family="&quot;Liberation Sans&quot;, sans-serif" fill="#484848" text-anchor="start">45</text>
<text x="325.2" y="311.86" font-size="5.4" font-family="&quot;Liberation Sans&quot;, sans-serif" fill="#484848" text-anchor="middle">45</text>
<text x="536.1" y="317.65" font-size="5.4" font-family="&quot;Liberation Sans&quot;, sans-serif" fill="#484848" text-anchor="start">50</text>
<text x="315.1" y="307.85" font-size="5.4" font-family="&quot;Liberation Sans&quot;, sans-serif" fill="#484848" text-anchor="middle">50</text>
<text x="318.1" y="303.25" font-size="5.4" font-family="&quot;Liberation Sans&quot;, sans-serif" fill="#484848" text-anchor="end">1</text>
<text x="318.1" y="287.81" font-size="5.4" font-family="&quot;Liberation Sans&quot;, sans-serif" fill="#484848" text-anchor="end">1.05</text>
<text x="318.1" y="272.37" font-size="5.4" font-family="&quot;Liberation Sans&quot;, sans-serif" fill="#484848" text-anchor="end">1.1</text>
<text x="318.1" y="256.93" font-size="5.4" font-family="&quot;Liberation Sans&quot;, sans-serif" fill="#484848" text-anchor="end">1.15</text>
<text x="318.1" y="241.49" font-size="5.4" font-family="&quot;Liberation Sans&quot;, sans-serif" fill="#484848" text-anchor="end">1.2</text>
<text x="318.1" y="226.05" font-size="5.4" font-family="&quot;Liberation Sans&quot;, sans-serif" fill="#484848" text-anchor="end">1.25</text>
<text x="303.7" y="263.5" font-size="9.1" font-family="&quot;Liberation Sans&quot;, sans-serif" fill="#0a0a0a" text-anchor="middle" font-weight="bold" transform="rotate(-90 303.7 263.5)" textLength="122.8" lengthAdjust="spacingAndGlyphs">H2 Consumption (kg/100km)</text>
<text x="333.4" y="345.7" font-size="8.8" font-family="&quot;Liberation Sans&quot;, sans-serif" fill="#0a0a0a" text-anchor="middle" font-weight="bold" textLength="83.6" lengthAdjust="spacingAndGlyphs">Li-B modules (kWh)</text>
<text x="487.6" y="348.1" font-size="8.8" font-family="&quot;Liberation Sans&quot;, sans-serif" fill="#0a0a0a" text-anchor="middle" font-weight="bold" textLength="58.4" lengthAdjust="spacingAndGlyphs">FC stack (kW)</text>
<text x="422.1" y="370" font-size="12" font-family="&quot;Liberation Serif&quot;, serif" fill="#000" text-anchor="middle" stroke="#000" stroke-width="0.22">(<tspan font-weight="bold">d</tspan>)</text>
</g>
</svg></body></html>
